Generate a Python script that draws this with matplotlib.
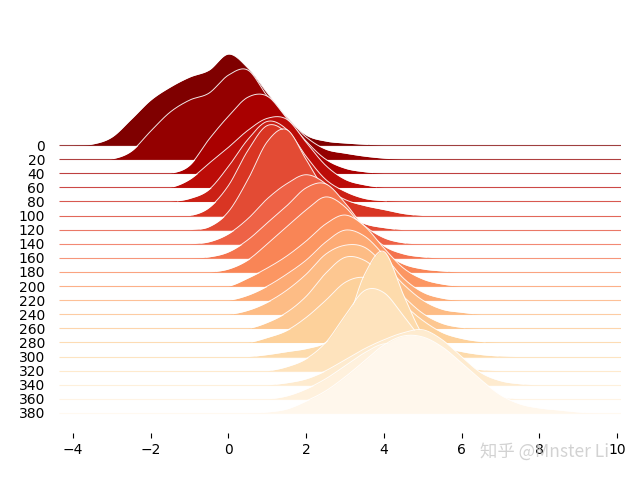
import numpy as np
import matplotlib
matplotlib.use("Agg")
import matplotlib.pyplot as plt

# group labels (one ridge per group, top to bottom)
GROUPS = [0, 20, 40, 60, 80, 100, 120, 140, 160, 180,
          200, 220, 240, 260, 280, 300, 320, 340, 360, 380]

# x positions where the ridge heights were read
X_GRID = [-4, -3.5, -3, -2.5, -2, -1.5, -1, -0.5, 0, 0.5, 1, 1.5, 2, 2.5, 3,
          3.5, 4, 4.5, 5, 5.5, 6, 6.5, 7, 7.5, 8, 8.5, 9, 9.5, 10]

# ridge heights (arbitrary density units) per group
d000 = [0, 1, 8, 26, 45, 58, 68, 75, 91, 77, 52, 28, 10, 4, 2, 0.8] + [0] * 13
d020 = [0, 0, 0.3, 8, 28, 47, 59, 66, 84, 89, 63, 42, 22, 10, 6, 3, 1] + [0] * 12
d040 = [0] * 6 + [8, 34, 57, 76, 77, 55, 32, 14, 5, 1.5] + [0] * 13
d060 = [0] * 6 + [8, 24, 40, 57, 69, 68, 45, 22, 8, 2.5] + [0] * 13
d080 = [0] * 6 + [3, 12, 35, 62, 80, 72, 45, 22, 10, 3, 0.8] + [0] * 12
d100 = [0] * 7 + [8, 30, 65, 90, 82, 50, 28, 16, 10, 6, 2] + [0] * 11
d120 = [0] * 7 + [3, 18, 50, 88, 100, 70, 38, 16, 6, 2] + [0] * 12
d140 = [0] * 7 + [2, 10, 25, 45, 60, 69, 60, 38, 18, 6, 1] + [0] * 11
d160 = [0] * 7 + [1, 6, 18, 35, 52, 70, 74, 55, 30, 12, 4, 1] + [0] * 10
d180 = [0] * 8 + [3, 12, 28, 45, 62, 75, 65, 42, 20, 8, 3, 1] + [0] * 9
d200 = [0] * 9 + [8, 18, 30, 45, 62, 71, 60, 38, 18, 7, 2] + [0] * 9
d220 = [0] * 9 + [5, 14, 26, 40, 58, 70, 64, 45, 22, 8, 2] + [0] * 9
d240 = [0] * 9 + [4, 12, 24, 40, 60, 69, 67, 50, 30, 14, 5, 2] + [0] * 8
d260 = [0] * 10 + [6, 16, 32, 55, 71, 68, 52, 32, 15, 5, 1] + [0] * 8
d280 = [0] * 10 + [5, 12, 25, 42, 60, 65, 55, 38, 22, 10, 4, 1] + [0] * 7
d300 = [0] * 10 + [2, 5, 8, 14, 30, 82, 105, 62, 22, 10, 5, 2, 0.5] + [0] * 6
d320 = [0] * 11 + [4, 12, 28, 55, 80, 78, 55, 30, 12, 4, 1] + [0] * 7
d340 = [0] * 11 + [2, 6, 14, 25, 36, 45, 52, 55, 45, 28, 12, 4, 1] + [0] * 5
d360 = [0] * 11 + [3, 10, 20, 33, 46, 55, 52, 42, 28, 15, 6, 2] + [0] * 6
d380 = [0] * 10 + [1, 4, 12, 22, 36, 52, 68, 77, 76, 66, 50, 33, 18, 9, 5, 3, 1] + [0] * 2

DENSITIES = [d000, d020, d040, d060, d080, d100, d120, d140, d160, d180,
             d200, d220, d240, d260, d280, d300, d320, d340, d360, d380]

XTICKS = [-4, -2, 0, 2, 4, 6, 8, 10]


def smooth(xs, ys, n=24):
    """cubic hermite curve through the read points (for drawing only)"""
    xs = np.asarray(xs, float)
    ys = np.asarray(ys, float)
    m = np.gradient(ys, xs)
    t = np.linspace(0, 1, n, endpoint=False)
    h00 = 2 * t**3 - 3 * t**2 + 1
    h10 = t**3 - 2 * t**2 + t
    h01 = -2 * t**3 + 3 * t**2
    h11 = t**3 - t**2
    xo, yo = [], []
    for k in range(len(xs) - 1):
        h = xs[k + 1] - xs[k]
        xo.append(xs[k] + t * h)
        yo.append(h00 * ys[k] + h10 * h * m[k] + h01 * ys[k + 1] + h11 * h * m[k + 1])
    xo.append([xs[-1]])
    yo.append([ys[-1]])
    return np.concatenate(xo), np.clip(np.concatenate(yo), 0, None)


fig = plt.figure(figsize=(6.4, 4.78), dpi=100)
ax = fig.add_axes([59 / 640, 45 / 478, 562 / 640, 403 / 478])

XMIN, XMAX = -4.36, 10.1
ROW = 14.1  # density units per ridge spacing
cmap = plt.get_cmap("OrRd_r")
n = len(GROUPS)

for i, dens in enumerate(DENSITIES):
    assert len(dens) == len(X_GRID)
    c = cmap(i / (n - 1))
    xs, ys = smooth(X_GRID, dens)
    base = -i
    z = 3 * i
    ax.fill_between(xs, base, base + ys / ROW, color=c, lw=0, zorder=z + 1)
    ax.plot([XMIN, XMAX], [base, base], color=c, lw=0.8, alpha=0.75,
            zorder=z + 1, solid_capstyle="butt")
    # white outline only along the raised part of the ridge
    nz = np.nonzero(ys > 0.6)[0]
    ax.plot(xs[nz[0]:nz[-1] + 1], base + ys[nz[0]:nz[-1] + 1] / ROW,
            color="white", lw=0.7, alpha=0.9, zorder=z + 2)

ax.set_xlim(XMIN, XMAX)
ax.set_ylim(-(19 + 20 / ROW), (145 - 30) / ROW)
ax.set_yticks([-i for i in range(n)])
ax.set_yticklabels([str(g) for g in GROUPS])
ax.tick_params(axis="y", length=0, pad=10, labelsize=10)
ax.set_xticks(XTICKS)
ax.set_xticklabels([str(v).replace("-", "\u2212") for v in XTICKS])
ax.tick_params(axis="x", length=3.5, labelsize=10)
for s in ax.spines.values():
    s.set_visible(False)
ax.patch.set_alpha(0)

# watermark
fig.text(480 / 640, 1 - 452 / 478, "知乎 @Mnster Li", fontsize=12.5,
         family=["Noto Sans CJK SC", "DejaVu Sans"], color="#c4c4c4",
         alpha=0.75, va="center", ha="left", zorder=100)

fig.savefig("out.png", dpi=100)
